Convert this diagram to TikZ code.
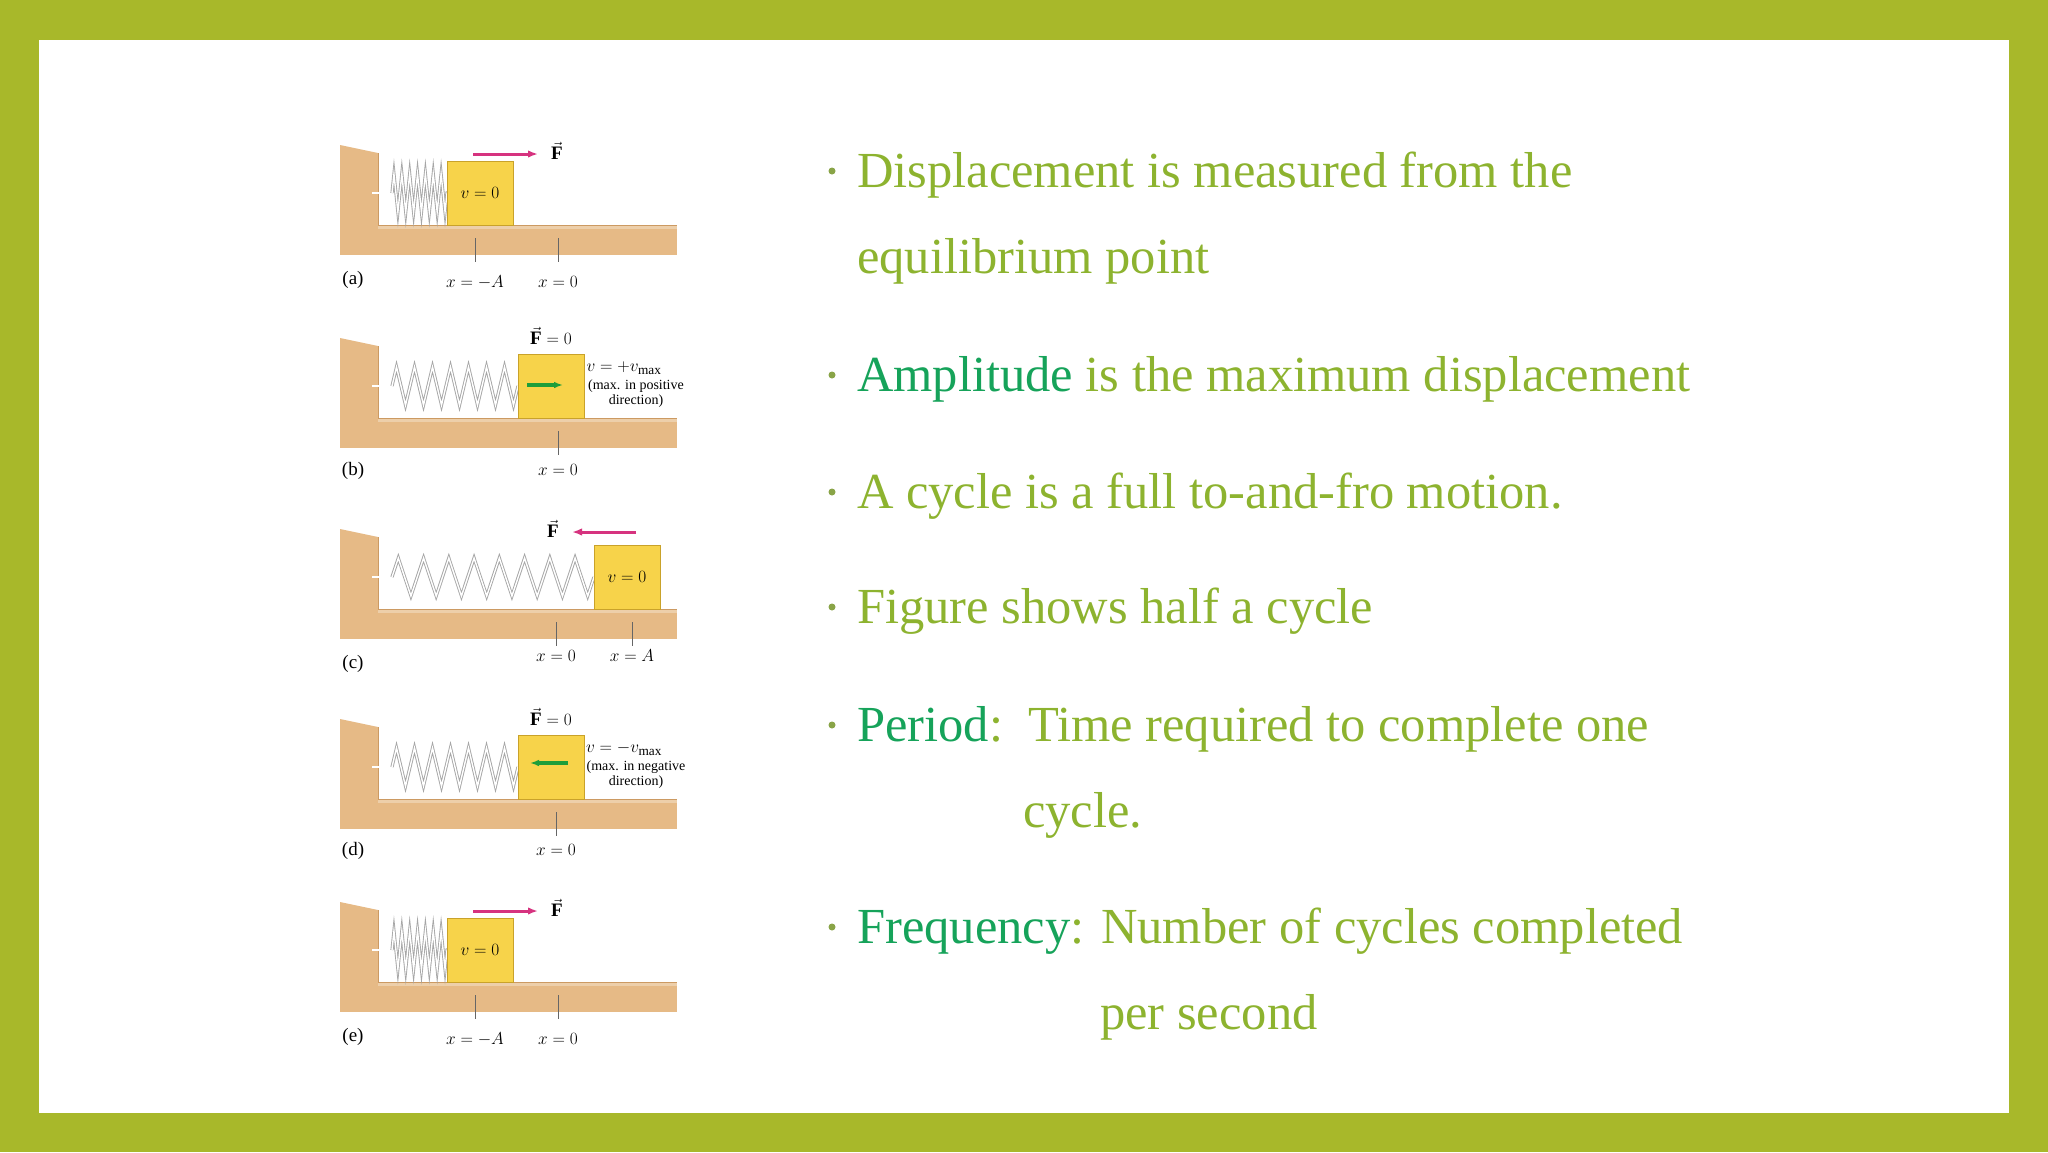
\documentclass[tikz,border=0pt]{standalone}
\usepackage{fontspec}
\setmainfont{Liberation Serif}
\usetikzlibrary{decorations.pathmorphing,arrows.meta}
\definecolor{frame}{HTML}{A8B82A}
\definecolor{txt}{HTML}{8DB32F}
\definecolor{key}{HTML}{16A35A}
\definecolor{tan}{HTML}{E6BA86}
\definecolor{tand}{HTML}{CC9A62}
\definecolor{blk}{HTML}{F7D34A}
\definecolor{blkd}{HTML}{C9A22A}
\definecolor{mag}{HTML}{D6337F}
\definecolor{grn}{HTML}{1E9E3A}
\newcommand\sprpanel[4]{%
\begin{scope}[shift={(0,#1)}]
 \fill[tan] (340,0) rectangle (677,30);
 \fill[tan!70!white] (378,0) -- (677,0) -- (677,4) -- (378,4) -- cycle;
 \fill[tan] (340,-80) -- (378,-72) -- (378,0) -- (340,8) -- cycle;
 \draw[tand] (378,-72) -- (378,0) -- (677,0);
 \draw[white,line width=2.5] (372,-32) -- (392,-32);
 \draw[gray!70,line width=3.2,decorate,decoration={zigzag,amplitude=19,segment length={(#2-392)/#3}}] (392,-32) -- (#2,-32);
 \draw[white,line width=1.4,decorate,decoration={zigzag,amplitude=19,segment length={(#2-392)/#3}}] (392,-32) -- (#2,-32);
 \fill[blk,draw=blkd] (#2,-64) rectangle ({#2+66},0);
 #4
\end{scope}}
\tikzset{lab/.style={font=\fontsize{19}{21}\selectfont,inner sep=0pt},
 small/.style={font=\fontsize{14}{15}\selectfont,inner sep=0pt,align=center},
 tick/.style={draw=gray!80!black,line width=0.8},
 bul/.style={anchor=base west,inner sep=0pt,font=\fontsize{50.5}{56}\selectfont,text=txt},
 dot/.style={circle,fill=txt!70!gray,inner sep=0pt,minimum size=7}}
\begin{document}
\begin{tikzpicture}[x=1pt,y=-1pt]
\fill[frame] (0,0) rectangle (2048,1152);
\fill[white] (39,40) rectangle (2009,1113);
% panel a
\sprpanel{225}{447}{7}{
 \node[lab] (va) at (480,-32) {$v=0$};
 \draw[mag,line width=3,-{Latex[length=10]}] (473,-71) -- (538,-71);
 \node[lab] (Fa) at (557,-74) {$\vec{\mathbf F}$};
 \draw[tick] (475,13) -- (475,37); \draw[tick] (558,13) -- (558,37);
 \node[lab] (xa1) at (475,57) {$x=-A$};
 \node[lab] (xa2) at (558,57) {$x=0$};
 \node[lab] (la) at (353,55) {(a)};}
% panel b
\sprpanel{418}{518}{7}{
 \node[lab] (Fb) at (551,-82) {$\vec{\mathbf F}=0$};
 \draw[grn,line width=4,-{Latex[length=9]}] (527,-33) -- (563,-33);
 \node[lab] (vb) at (624,-50) {$v=+v_{\max}$};
 \node[small] (nb) at (636,-24) {(max. in positive\\direction)};
 \draw[tick] (558,13) -- (558,37);
 \node[lab] (xb) at (558,52) {$x=0$};
 \node[lab] (lb) at (353,53) {(b)};}
% panel c
\sprpanel{609}{594}{8}{
 \node[lab] (vc) at (627,-32) {$v=0$};
 \draw[mag,line width=3,-{Latex[length=10]}] (636,-77) -- (572,-77);
 \node[lab] (Fc) at (553,-80) {$\vec{\mathbf F}$};
 \draw[tick] (556,13) -- (556,37); \draw[tick] (632,13) -- (632,37);
 \node[lab] (xc1) at (556,47) {$x=0$};
 \node[lab] (xc2) at (632,47) {$x=A$};
 \node[lab] (lc) at (353,55) {(c)};}
% panel d
\sprpanel{799}{518}{7}{
 \node[lab] (Fd) at (551,-82) {$\vec{\mathbf F}=0$};
 \draw[grn,line width=4,-{Latex[length=9]}] (568,-36) -- (530,-36);
 \node[lab] (vd) at (624,-50) {$v=-v_{\max}$};
 \node[small] (nd) at (636,-24) {(max. in negative\\direction)};
 \draw[tick] (556,13) -- (556,37);
 \node[lab] (xd) at (556,51) {$x=0$};
 \node[lab] (ld) at (353,52) {(d)};}
% panel e
\sprpanel{982}{447}{7}{
 \node[lab] (ve) at (480,-32) {$v=0$};
 \draw[mag,line width=3,-{Latex[length=10]}] (473,-71) -- (538,-71);
 \node[lab] (Fe) at (557,-74) {$\vec{\mathbf F}$};
 \draw[tick] (475,13) -- (475,37); \draw[tick] (558,13) -- (558,37);
 \node[lab] (xe1) at (475,57) {$x=-A$};
 \node[lab] (xe2) at (558,57) {$x=0$};
 \node[lab] (le) at (353,55) {(e)};}
% text
\node[bul] (t1) at (857,187) {Displacement is measured from the};
\node[bul] (t1b) at (857,273) {equilibrium point};
\node[bul] (t2) at (857,391) {\textcolor{key}{Amplitude} is the maximum displacement};
\node[bul] (t3) at (857,508) {A cycle is a full to-and-fro motion.};
\node[bul] (t4) at (857,623) {Figure shows half a cycle};
\node[bul] (t5) at (857,741) {\textcolor{key}{Period}:\ \ Time required to complete one};
\node[bul] (t5b) at (1023,827) {cycle.};
\node[bul] (t6) at (857,943) {\textcolor{key}{Frequency}: Number of cycles completed};
\node[bul] (t6b) at (1100,1029) {per second};
\foreach \yy/\nm in {171/d1,375/d2,492/d3,607/d4,725/d5,927/d6}
 \node[dot] (\nm) at (832,\yy) {};
\end{tikzpicture}
\end{document}
